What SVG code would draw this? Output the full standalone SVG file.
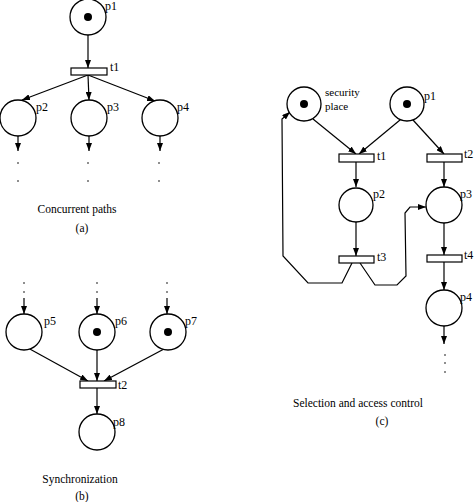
<svg xmlns="http://www.w3.org/2000/svg" width="474" height="502" viewBox="0 0 474 502" font-family="'Liberation Serif', 'DejaVu Serif', serif">
<defs>
<style>
.pl{fill:#fff;stroke:#000;stroke-width:1.3}
.tr{fill:#fff;stroke:#000;stroke-width:1.2}
.tk{fill:#000}
.e{fill:none;stroke:#000;stroke-width:1.2}
.a{marker-end:url(#ah)}
text{font-family:'Liberation Serif','DejaVu Serif',serif;font-size:12px;fill:#000}
.cap{text-anchor:middle;font-size:11.5px}
.sm{font-size:11px}
.dot{fill:#000}
</style>
<marker id="ah" viewBox="0 0 8 6" refX="8" refY="3" markerWidth="8" markerHeight="6" markerUnits="userSpaceOnUse" orient="auto">
<path d="M0,0 L8,3 L0,6 Z" fill="#000"/>
</marker>
</defs>
<rect width="474" height="502" fill="#fff"/>

<g id="connectors">
<line class="e a" x1="88" y1="35" x2="88" y2="68"/>
<line class="e a" x1="88" y1="75" x2="22" y2="100"/>
<line class="e a" x1="88" y1="75" x2="89" y2="100"/>
<line class="e a" x1="88" y1="75" x2="155" y2="101"/>
<line class="e a" x1="18" y1="136" x2="18" y2="151"/>
<line class="e a" x1="89" y1="136" x2="89" y2="151"/>
<line class="e a" x1="160" y1="136" x2="160" y2="151"/>
<line class="e a" x1="24" y1="298" x2="24" y2="314"/>
<line class="e a" x1="97" y1="298" x2="97" y2="314"/>
<line class="e a" x1="167" y1="298" x2="167" y2="314"/>
<line class="e a" x1="28" y1="348" x2="88" y2="381"/>
<line class="e a" x1="97" y1="350" x2="97" y2="381"/>
<line class="e a" x1="164" y1="349" x2="104" y2="381"/>
<line class="e a" x1="97" y1="388" x2="97" y2="414"/>
<line class="e a" x1="313" y1="119" x2="356" y2="154"/>
<line class="e a" x1="400" y1="120" x2="359" y2="154"/>
<line class="e a" x1="413" y1="120" x2="444" y2="154"/>
<line class="e a" x1="356" y1="162" x2="356" y2="187"/>
<line class="e a" x1="444" y1="162" x2="444" y2="187"/>
<line class="e a" x1="356" y1="222" x2="356" y2="256"/>
<line class="e a" x1="444" y1="223" x2="444" y2="255"/>
<line class="e a" x1="444" y1="262" x2="444" y2="290"/>
<line class="e a" x1="444" y1="326" x2="444" y2="344"/>
<polyline class="e a" points="352,263 342,283 308,283 283,256 282,119 290,112"/>
<polyline class="e a" points="360,263 375,285 397,285 406,276 405,213 410,207 426,207"/>
</g>

<g id="a-p1"><circle class="pl" cx="88" cy="17" r="18"/><circle class="tk" cx="88" cy="17" r="4"/><text x="105" y="10">p1</text></g>
<g id="a-t1"><rect class="tr" x="71" y="68" width="36" height="7"/><text x="110" y="71">t1</text></g>
<g id="a-p2"><circle class="pl" cx="18" cy="118" r="18"/><text x="36" y="111">p2</text></g>
<g id="a-p3"><circle class="pl" cx="89" cy="118" r="18"/><text x="107" y="111">p3</text></g>
<g id="a-p4"><circle class="pl" cx="160" cy="118" r="18"/><text x="177" y="111">p4</text></g>
<g id="a-dots">
<circle class="dot" cx="18" cy="163" r="0.8"/><circle class="dot" cx="18" cy="181" r="0.8"/>
<circle class="dot" cx="88" cy="163" r="0.8"/><circle class="dot" cx="88" cy="181" r="0.8"/>
<circle class="dot" cx="159" cy="163" r="0.8"/><circle class="dot" cx="159" cy="181" r="0.8"/>
</g>
<text class="cap" x="77" y="213">Concurrent paths</text>
<text class="cap" x="82" y="232">(a)</text>

<g id="b-dots">
<circle class="dot" cx="24" cy="283" r="0.8"/><circle class="dot" cx="24" cy="292" r="0.8"/>
<circle class="dot" cx="97" cy="283" r="0.8"/><circle class="dot" cx="97" cy="292" r="0.8"/>
<circle class="dot" cx="167" cy="283" r="0.8"/><circle class="dot" cx="167" cy="292" r="0.8"/>
</g>
<g id="b-p5"><circle class="pl" cx="24" cy="332" r="18"/><text x="44" y="325">p5</text></g>
<g id="b-p6"><circle class="pl" cx="97" cy="332" r="18"/><circle class="tk" cx="97" cy="332" r="4"/><text x="115" y="325">p6</text></g>
<g id="b-p7"><circle class="pl" cx="168" cy="332" r="18"/><circle class="tk" cx="168" cy="332" r="4"/><text x="185" y="325">p7</text></g>
<g id="b-t2"><rect class="tr" x="80" y="381" width="36" height="7"/><text x="118" y="389">t2</text></g>
<g id="b-p8"><circle class="pl" cx="97" cy="432" r="18"/><text x="113" y="426">p8</text></g>
<text class="cap" x="80" y="483">Synchronization</text>
<text class="cap" x="82" y="500">(b)</text>

<g id="c-security"><circle class="pl" cx="304" cy="104" r="17"/><circle class="tk" cx="304" cy="104" r="4"/><text class="sm" x="325" y="96">security</text><text class="sm" x="325" y="110">place</text></g>
<g id="c-p1"><circle class="pl" cx="407" cy="104" r="17"/><circle class="tk" cx="407" cy="104" r="4"/><text x="424" y="100">p1</text></g>
<g id="c-t1"><rect class="tr" x="339" y="154" width="35" height="8"/><text x="377" y="160">t1</text></g>
<g id="c-t2"><rect class="tr" x="427" y="154" width="35" height="8"/><text x="464" y="158">t2</text></g>
<g id="c-p2"><circle class="pl" cx="356" cy="205" r="17"/><text x="373" y="198">p2</text></g>
<g id="c-p3"><circle class="pl" cx="444" cy="205" r="18"/><text x="460" y="198">p3</text></g>
<g id="c-t3"><rect class="tr" x="339" y="256" width="35" height="7"/><text x="377" y="261">t3</text></g>
<g id="c-t4"><rect class="tr" x="427" y="255" width="35" height="7"/><text x="464" y="259">t4</text></g>
<g id="c-p4"><circle class="pl" cx="444" cy="308" r="18"/><text x="460" y="301">p4</text></g>
<g id="c-dots">
<circle class="dot" cx="445" cy="355" r="0.8"/><circle class="dot" cx="445" cy="363" r="0.8"/><circle class="dot" cx="445" cy="372" r="0.8"/>
</g>
<text class="cap" x="358" y="407">Selection and access control</text>
<text class="cap" x="382" y="425">(c)</text>
</svg>
